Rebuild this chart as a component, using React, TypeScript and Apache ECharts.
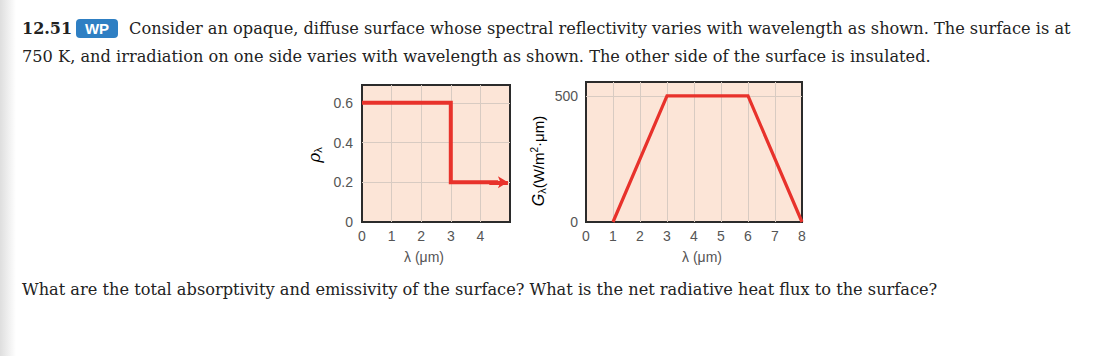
import React, { useEffect, useRef } from "react";
import * as echarts from "echarts";

// ---- data ----
const rhoWavelength = [0, 3, 3, 4.6];
const rhoValues = [0.6, 0.6, 0.2, 0.2];
const rhoArrow = [[4.3, 0.2], [4.93, 0.2]];
const rhoXTicks = [0, 1, 2, 3, 4];
const rhoYTicks = [0, 0.2, 0.4, 0.6];

const gWavelength = [1, 3, 6, 8];
const gValues = [0, 500, 500, 0];
const gXTicks = [0, 1, 2, 3, 4, 5, 6, 7, 8];
const gYTicks = [0, 500];

const line1a = "12.51";
const badge = "WP";
const line1b =
  "Consider an opaque, diffuse surface whose spectral reflectivity varies with wavelength as shown. The surface is at";
const line2 =
  "750 K, and irradiation on one side varies with wavelength as shown. The other side of the surface is insulated.";
const line3 =
  "What are the total absorptivity and emissivity of the surface? What is the net radiative heat flux to the surface?";

const RED = "#e8322b";
const GRIDC = "#d8cbc2";
const BG = "#fce5d7";
const FRAME = "#2b2b2b";
const LABEL = "#555555";
const SANS = "Liberation Sans, Arial, sans-serif";
const SERIF = "DejaVu Serif, serif";

const inTicks = (ticks: number[]) => (v: number) =>
  ticks.some((t) => Math.abs(t - v) < 1e-6) ? String(v) : "";

export default function App() {
  const ref = useRef<HTMLDivElement>(null);
  useEffect(() => {
    document.body.style.margin = "0";
    if (!ref.current) return;
    const chart = echarts.init(ref.current, null, { renderer: "svg" });
    const axisLabel = (ticks: number[]) => ({
      color: LABEL,
      fontFamily: SANS,
      fontSize: 14,
      formatter: inTicks(ticks),
    });
    chart.setOption({
      animation: false,
      backgroundColor: "#ffffff",
      grid: [
        {
          left: 362, top: 85, width: 148, height: 137,
          show: true, backgroundColor: BG, borderColor: FRAME, borderWidth: 2,
        },
        {
          left: 586, top: 82, width: 216, height: 140,
          show: true, backgroundColor: BG, borderColor: FRAME, borderWidth: 2,
        },
      ],
      xAxis: [
        {
          gridIndex: 0, type: "value", min: 0, max: 5, interval: 1,
          axisLine: { show: false }, axisTick: { show: false },
          axisLabel: { ...axisLabel(rhoXTicks), margin: 7 },
          splitLine: { show: true, showMinLine: false, showMaxLine: false, lineStyle: { color: GRIDC, width: 1 } },
        },
        {
          gridIndex: 1, type: "value", min: 0, max: 8, interval: 1,
          axisLine: { show: false }, axisTick: { show: false },
          axisLabel: { ...axisLabel(gXTicks), margin: 7 },
          splitLine: { show: true, showMinLine: false, showMaxLine: false, lineStyle: { color: GRIDC, width: 1 } },
        },
      ],
      yAxis: [
        {
          gridIndex: 0, type: "value", min: 0, max: 0.69, interval: 0.2,
          axisLine: { show: false }, axisTick: { show: false },
          axisLabel: { ...axisLabel(rhoYTicks), margin: 9 },
          splitLine: { show: true, showMinLine: false, showMaxLine: false, lineStyle: { color: GRIDC, width: 1 } },
        },
        {
          gridIndex: 1, type: "value", min: 0, max: 555, interval: 500,
          axisLine: { show: false }, axisTick: { show: false },
          axisLabel: { ...axisLabel(gYTicks), margin: 8 },
          splitLine: { show: true, showMinLine: false, showMaxLine: false, lineStyle: { color: GRIDC, width: 1 } },
        },
      ],
      series: [
        {
          type: "line", xAxisIndex: 0, yAxisIndex: 0, symbol: "none",
          data: rhoWavelength.map((x, i) => [x, rhoValues[i]]),
          lineStyle: { color: RED, width: 4, join: "miter" },
          markLine: {
            silent: true, symbol: ["none", "arrow"], symbolSize: [9, 10],
            label: { show: false },
            lineStyle: { color: RED, width: 4, type: "solid" },
            data: [[{ coord: rhoArrow[0] }, { coord: rhoArrow[1] }]],
          },
        },
        {
          type: "line", xAxisIndex: 1, yAxisIndex: 1, symbol: "none",
          data: gWavelength.map((x, i) => [x, gValues[i]]),
          lineStyle: { color: RED, width: 3.2, join: "miter" },
        },
      ],
      graphic: [
        {
          type: "rect", z: -10, shape: { x: 0, y: 0, width: 16, height: 356 },
          style: {
            fill: new echarts.graphic.LinearGradient(0, 0, 1, 0, [
              { offset: 0, color: "#dedede" },
              { offset: 1, color: "#ffffff" },
            ]),
          },
        },
        {
          type: "text", x: 22, y: 28,
          style: { text: line1a, font: `bold 16px ${SERIF}`, fill: "#222", verticalAlign: "middle" },
        },
        {
          type: "rect", shape: { x: 76, y: 19, width: 42, height: 19, r: 4 },
          style: { fill: "#2e7fc3" },
        },
        {
          type: "text", x: 97, y: 28.5,
          style: { text: badge, font: `bold 15px ${SANS}`, fill: "#ffffff", align: "center", verticalAlign: "middle" },
        },
        {
          type: "text", x: 129, y: 28,
          style: { text: line1b, font: `16.2px ${SERIF}`, fill: "#222", verticalAlign: "middle" },
        },
        {
          type: "text", x: 22, y: 56,
          style: { text: line2, font: `16.2px ${SERIF}`, fill: "#222", verticalAlign: "middle" },
        },
        {
          type: "text", x: 22, y: 289,
          style: { text: line3, font: `16.2px ${SERIF}`, fill: "#222", verticalAlign: "middle" },
        },
        {
          type: "text", x: 424, y: 257,
          style: { text: "λ (μm)", font: `14px ${SANS}`, fill: LABEL, align: "center", verticalAlign: "middle" },
        },
        {
          type: "text", x: 702, y: 257,
          style: { text: "λ (μm)", font: `14px ${SANS}`, fill: LABEL, align: "center", verticalAlign: "middle" },
        },
        {
          type: "text", x: 314, y: 155, rotation: Math.PI / 2,
          style: {
            text: "{i|ρ}{s|λ}",
            align: "center", verticalAlign: "middle",
            rich: {
              i: { fontFamily: "DejaVu Serif", fontStyle: "italic", fontSize: 17, color: LABEL },
              s: { fontFamily: SANS, fontSize: 11, color: LABEL, padding: [8, 0, 0, 0] },
            },
          },
        },
        {
          type: "text", x: 538, y: 161, rotation: Math.PI / 2,
          style: {
            text: "{i|G}{s|λ}{n|(W/m}{p|2}{n|·μm)}",
            align: "center", verticalAlign: "middle",
            rich: {
              i: { fontFamily: SANS, fontStyle: "italic", fontSize: 16, color: LABEL },
              s: { fontFamily: SANS, fontSize: 11, color: LABEL, padding: [7, 0, 0, 0] },
              n: { fontFamily: SANS, fontSize: 15, color: LABEL },
              p: { fontFamily: SANS, fontSize: 10, color: LABEL, padding: [0, 0, 8, 0] },
            },
          },
        },
      ],
    });
    return () => chart.dispose();
  }, []);
  return <div ref={ref} style={{ width: 1110, height: 356 }} />;
}
